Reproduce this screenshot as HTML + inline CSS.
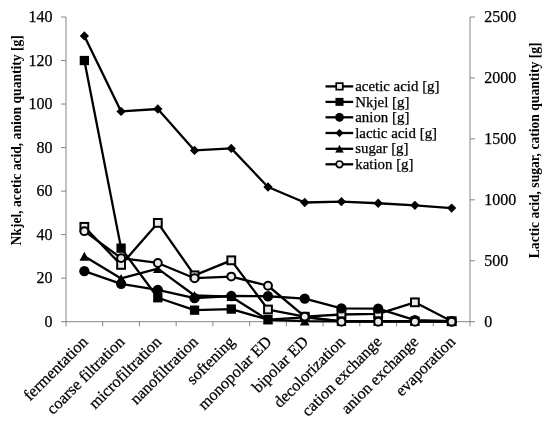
<!DOCTYPE html>
<html><head><meta charset="utf-8"><title>chart</title><style>html,body{margin:0;padding:0;background:#fff}body{width:550px;height:423px;overflow:hidden}</style></head><body>
<svg width="550" height="423" viewBox="0 0 550 423" style="display:block">
<rect width="550" height="423" fill="#fff"/>
<g stroke="#868686" stroke-width="1" fill="none">
<line x1="66.0" y1="17.0" x2="66.0" y2="321.7"/>
<line x1="470.0" y1="17.0" x2="470.0" y2="321.7"/>
<line x1="66.0" y1="321.7" x2="470.0" y2="321.7"/>
<line x1="61.0" y1="321.70" x2="66.0" y2="321.70"/>
<line x1="61.0" y1="278.17" x2="66.0" y2="278.17"/>
<line x1="61.0" y1="234.64" x2="66.0" y2="234.64"/>
<line x1="61.0" y1="191.11" x2="66.0" y2="191.11"/>
<line x1="61.0" y1="147.59" x2="66.0" y2="147.59"/>
<line x1="61.0" y1="104.06" x2="66.0" y2="104.06"/>
<line x1="61.0" y1="60.53" x2="66.0" y2="60.53"/>
<line x1="61.0" y1="17.00" x2="66.0" y2="17.00"/>
<line x1="470.0" y1="321.70" x2="475.0" y2="321.70"/>
<line x1="470.0" y1="260.76" x2="475.0" y2="260.76"/>
<line x1="470.0" y1="199.82" x2="475.0" y2="199.82"/>
<line x1="470.0" y1="138.88" x2="475.0" y2="138.88"/>
<line x1="470.0" y1="77.94" x2="475.0" y2="77.94"/>
<line x1="470.0" y1="17.00" x2="475.0" y2="17.00"/>
<line x1="66.00" y1="321.7" x2="66.00" y2="326.4"/>
<line x1="102.73" y1="321.7" x2="102.73" y2="326.4"/>
<line x1="139.45" y1="321.7" x2="139.45" y2="326.4"/>
<line x1="176.18" y1="321.7" x2="176.18" y2="326.4"/>
<line x1="212.91" y1="321.7" x2="212.91" y2="326.4"/>
<line x1="249.64" y1="321.7" x2="249.64" y2="326.4"/>
<line x1="286.36" y1="321.7" x2="286.36" y2="326.4"/>
<line x1="323.09" y1="321.7" x2="323.09" y2="326.4"/>
<line x1="359.82" y1="321.7" x2="359.82" y2="326.4"/>
<line x1="396.55" y1="321.7" x2="396.55" y2="326.4"/>
<line x1="433.27" y1="321.7" x2="433.27" y2="326.4"/>
<line x1="470.00" y1="321.7" x2="470.00" y2="326.4"/>
</g>
<g font-family="'Liberation Serif', serif" font-size="16" fill="#000" stroke="#000" stroke-width="0.25">
<text x="52.5" y="327.00" text-anchor="end">0</text>
<text x="52.5" y="283.47" text-anchor="end">20</text>
<text x="52.5" y="239.94" text-anchor="end">40</text>
<text x="52.5" y="196.41" text-anchor="end">60</text>
<text x="52.5" y="152.89" text-anchor="end">80</text>
<text x="52.5" y="109.36" text-anchor="end">100</text>
<text x="52.5" y="65.83" text-anchor="end">120</text>
<text x="52.5" y="22.30" text-anchor="end">140</text>
<text x="484.3" y="327.00">0</text>
<text x="484.3" y="266.06">500</text>
<text x="484.3" y="205.12">1000</text>
<text x="484.3" y="144.18">1500</text>
<text x="484.3" y="83.24">2000</text>
<text x="484.3" y="22.30">2500</text>
<text transform="translate(88.86,342.70) rotate(-45)" text-anchor="end" font-size="16.3">fermentation</text>
<text transform="translate(125.59,342.70) rotate(-45)" text-anchor="end" font-size="16.3">coarse filtration</text>
<text transform="translate(162.32,342.70) rotate(-45)" text-anchor="end" font-size="16.3">microfiltration</text>
<text transform="translate(199.05,342.70) rotate(-45)" text-anchor="end" font-size="16.3">nanofiltration</text>
<text transform="translate(235.77,342.70) rotate(-45)" text-anchor="end" font-size="16.3">softening</text>
<text transform="translate(272.50,342.70) rotate(-45)" text-anchor="end" font-size="16.3">monopolar ED</text>
<text transform="translate(309.23,342.70) rotate(-45)" text-anchor="end" font-size="16.3">bipolar ED</text>
<text transform="translate(345.95,342.70) rotate(-45)" text-anchor="end" font-size="16.3">decolorization</text>
<text transform="translate(382.68,342.70) rotate(-45)" text-anchor="end" font-size="16.3">cation exchange</text>
<text transform="translate(419.41,342.70) rotate(-45)" text-anchor="end" font-size="16.3">anion exchange</text>
<text transform="translate(456.14,342.70) rotate(-45)" text-anchor="end" font-size="16.3">evaporation</text>
</g>
<g font-family="'Liberation Serif', serif" font-size="13.6" font-weight="bold" fill="#000">
<text transform="translate(21,140.3) rotate(-90)" text-anchor="middle">Nkjel, acetic acid, anion quantity [g]</text>
<text transform="translate(539,150.3) rotate(-90)" text-anchor="middle" font-size="13.6">Lactic acid, sugar, cation quantity [g]</text>
</g>
<polyline fill="none" stroke="#000" stroke-width="2.3" stroke-linejoin="round" points="84.36,226.81 121.09,264.90 157.82,222.89 194.55,275.34 231.27,260.32 268.00,309.51 304.73,316.69 341.45,314.52 378.18,313.86 414.91,302.33 451.64,321.26"/>
<rect x="80.46" y="222.91" width="7.800000000000001" height="7.800000000000001" fill="#eaeaea" stroke="#000" stroke-width="2"/>
<rect x="117.19" y="261.00" width="7.800000000000001" height="7.800000000000001" fill="#eaeaea" stroke="#000" stroke-width="2"/>
<rect x="153.92" y="218.99" width="7.800000000000001" height="7.800000000000001" fill="#eaeaea" stroke="#000" stroke-width="2"/>
<rect x="190.65" y="271.44" width="7.800000000000001" height="7.800000000000001" fill="#eaeaea" stroke="#000" stroke-width="2"/>
<rect x="227.37" y="256.42" width="7.800000000000001" height="7.800000000000001" fill="#eaeaea" stroke="#000" stroke-width="2"/>
<rect x="264.10" y="305.61" width="7.800000000000001" height="7.800000000000001" fill="#eaeaea" stroke="#000" stroke-width="2"/>
<rect x="300.83" y="312.79" width="7.800000000000001" height="7.800000000000001" fill="#eaeaea" stroke="#000" stroke-width="2"/>
<rect x="337.55" y="310.62" width="7.800000000000001" height="7.800000000000001" fill="#eaeaea" stroke="#000" stroke-width="2"/>
<rect x="374.28" y="309.96" width="7.800000000000001" height="7.800000000000001" fill="#eaeaea" stroke="#000" stroke-width="2"/>
<rect x="411.01" y="298.43" width="7.800000000000001" height="7.800000000000001" fill="#eaeaea" stroke="#000" stroke-width="2"/>
<rect x="447.74" y="317.36" width="7.800000000000001" height="7.800000000000001" fill="#eaeaea" stroke="#000" stroke-width="2"/>
<polyline fill="none" stroke="#000" stroke-width="2.3" stroke-linejoin="round" points="84.36,60.53 121.09,248.14 157.82,297.76 194.55,310.16 231.27,309.08 268.00,319.63 304.73,317.35 341.45,321.05 378.18,321.05 414.91,321.16 451.64,321.37"/>
<rect x="79.71" y="55.88" width="9.3" height="9.3" fill="#000"/>
<rect x="116.44" y="243.49" width="9.3" height="9.3" fill="#000"/>
<rect x="153.17" y="293.11" width="9.3" height="9.3" fill="#000"/>
<rect x="189.90" y="305.51" width="9.3" height="9.3" fill="#000"/>
<rect x="226.62" y="304.43" width="9.3" height="9.3" fill="#000"/>
<rect x="263.35" y="314.98" width="9.3" height="9.3" fill="#000"/>
<rect x="300.08" y="312.70" width="9.3" height="9.3" fill="#000"/>
<rect x="336.80" y="316.40" width="9.3" height="9.3" fill="#000"/>
<rect x="373.53" y="316.40" width="9.3" height="9.3" fill="#000"/>
<rect x="410.26" y="316.51" width="9.3" height="9.3" fill="#000"/>
<rect x="446.99" y="316.72" width="9.3" height="9.3" fill="#000"/>
<polyline fill="none" stroke="#000" stroke-width="2.3" stroke-linejoin="round" points="84.36,271.21 121.09,283.83 157.82,289.92 194.55,298.19 231.27,296.02 268.00,296.24 304.73,298.63 341.45,308.42 378.18,308.64 414.91,320.07 451.64,321.26"/>
<circle cx="84.36" cy="271.21" r="5.15" fill="#000"/>
<circle cx="121.09" cy="283.83" r="5.15" fill="#000"/>
<circle cx="157.82" cy="289.92" r="5.15" fill="#000"/>
<circle cx="194.55" cy="298.19" r="5.15" fill="#000"/>
<circle cx="231.27" cy="296.02" r="5.15" fill="#000"/>
<circle cx="268.00" cy="296.24" r="5.15" fill="#000"/>
<circle cx="304.73" cy="298.63" r="5.15" fill="#000"/>
<circle cx="341.45" cy="308.42" r="5.15" fill="#000"/>
<circle cx="378.18" cy="308.64" r="5.15" fill="#000"/>
<circle cx="414.91" cy="320.07" r="5.15" fill="#000"/>
<circle cx="451.64" cy="321.26" r="5.15" fill="#000"/>
<polyline fill="none" stroke="#000" stroke-width="2.3" stroke-linejoin="round" points="84.36,35.89 121.09,111.46 157.82,109.02 194.55,150.46 231.27,148.39 268.00,187.02 304.73,202.50 341.45,201.65 378.18,203.23 414.91,205.30 451.64,208.11"/>
<path d="M79.71,35.89L84.36,31.24L89.01,35.89L84.36,40.54Z" fill="#000"/>
<path d="M116.44,111.46L121.09,106.81L125.74,111.46L121.09,116.11Z" fill="#000"/>
<path d="M153.17,109.02L157.82,104.37L162.47,109.02L157.82,113.67Z" fill="#000"/>
<path d="M189.90,150.46L194.55,145.81L199.20,150.46L194.55,155.11Z" fill="#000"/>
<path d="M226.62,148.39L231.27,143.74L235.92,148.39L231.27,153.04Z" fill="#000"/>
<path d="M263.35,187.02L268.00,182.37L272.65,187.02L268.00,191.67Z" fill="#000"/>
<path d="M300.08,202.50L304.73,197.85L309.38,202.50L304.73,207.15Z" fill="#000"/>
<path d="M336.80,201.65L341.45,197.00L346.10,201.65L341.45,206.30Z" fill="#000"/>
<path d="M373.53,203.23L378.18,198.58L382.83,203.23L378.18,207.88Z" fill="#000"/>
<path d="M410.26,205.30L414.91,200.65L419.56,205.30L414.91,209.95Z" fill="#000"/>
<path d="M446.99,208.11L451.64,203.46L456.29,208.11L451.64,212.76Z" fill="#000"/>
<polyline fill="none" stroke="#000" stroke-width="2.3" stroke-linejoin="round" points="84.36,256.25 121.09,278.43 157.82,268.68 194.55,295.50 231.27,296.71 268.00,319.87 304.73,321.09 341.45,321.33 378.18,321.33 414.91,321.33 451.64,321.46"/>
<path d="M79.51,260.65L84.36,251.85L89.21,260.65Z" fill="#000"/>
<path d="M116.24,282.83L121.09,274.03L125.94,282.83Z" fill="#000"/>
<path d="M152.97,273.08L157.82,264.28L162.67,273.08Z" fill="#000"/>
<path d="M189.70,299.90L194.55,291.10L199.40,299.90Z" fill="#000"/>
<path d="M226.42,301.11L231.27,292.31L236.12,301.11Z" fill="#000"/>
<path d="M263.15,324.27L268.00,315.47L272.85,324.27Z" fill="#000"/>
<path d="M299.88,325.49L304.73,316.69L309.58,325.49Z" fill="#000"/>
<path d="M336.60,325.73L341.45,316.93L346.30,325.73Z" fill="#000"/>
<path d="M373.33,325.73L378.18,316.93L383.03,325.73Z" fill="#000"/>
<path d="M410.06,325.73L414.91,316.93L419.76,325.73Z" fill="#000"/>
<path d="M446.79,325.86L451.64,317.06L456.49,325.86Z" fill="#000"/>
<polyline fill="none" stroke="#000" stroke-width="2.3" stroke-linejoin="round" points="84.36,231.14 121.09,258.08 157.82,262.95 194.55,278.19 231.27,276.60 268.00,285.75 304.73,316.58 341.45,321.70 378.18,321.70 414.91,321.70 451.64,321.64"/>
<circle cx="84.36" cy="231.14" r="3.95" fill="#eaeaea" stroke="#000" stroke-width="2"/>
<circle cx="121.09" cy="258.08" r="3.95" fill="#eaeaea" stroke="#000" stroke-width="2"/>
<circle cx="157.82" cy="262.95" r="3.95" fill="#eaeaea" stroke="#000" stroke-width="2"/>
<circle cx="194.55" cy="278.19" r="3.95" fill="#eaeaea" stroke="#000" stroke-width="2"/>
<circle cx="231.27" cy="276.60" r="3.95" fill="#eaeaea" stroke="#000" stroke-width="2"/>
<circle cx="268.00" cy="285.75" r="3.95" fill="#eaeaea" stroke="#000" stroke-width="2"/>
<circle cx="304.73" cy="316.58" r="3.95" fill="#eaeaea" stroke="#000" stroke-width="2"/>
<circle cx="341.45" cy="321.70" r="3.95" fill="#eaeaea" stroke="#000" stroke-width="2"/>
<circle cx="378.18" cy="321.70" r="3.95" fill="#eaeaea" stroke="#000" stroke-width="2"/>
<circle cx="414.91" cy="321.70" r="3.95" fill="#eaeaea" stroke="#000" stroke-width="2"/>
<circle cx="451.64" cy="321.64" r="3.95" fill="#eaeaea" stroke="#000" stroke-width="2"/>
<g font-family="'Liberation Serif', serif" font-size="14.9" fill="#000" stroke="#000" stroke-width="0.25">
<line x1="325.5" y1="86.4" x2="353.2" y2="86.4" stroke="#000" stroke-width="2.3"/>
<g transform="translate(339.5,86.4) scale(0.84) translate(-339.5,-86.4)"><rect x="335.60" y="82.50" width="7.800000000000001" height="7.800000000000001" fill="#eaeaea" stroke="#000" stroke-width="2"/></g>
<text x="355.2" y="91.00">acetic acid [g]</text>
<line x1="325.5" y1="101.9" x2="353.2" y2="101.9" stroke="#000" stroke-width="2.3"/>
<g transform="translate(339.5,101.9) scale(0.84) translate(-339.5,-101.9)"><rect x="334.85" y="97.25" width="9.3" height="9.3" fill="#000"/></g>
<text x="355.2" y="106.50">Nkjel [g]</text>
<line x1="325.5" y1="117.3" x2="353.2" y2="117.3" stroke="#000" stroke-width="2.3"/>
<g transform="translate(339.5,117.3) scale(0.84) translate(-339.5,-117.3)"><circle cx="339.50" cy="117.30" r="5.15" fill="#000"/></g>
<text x="355.2" y="121.90">anion [g]</text>
<line x1="325.5" y1="133.0" x2="353.2" y2="133.0" stroke="#000" stroke-width="2.3"/>
<g transform="translate(339.5,133.0) scale(0.84) translate(-339.5,-133.0)"><path d="M334.85,133.00L339.50,128.35L344.15,133.00L339.50,137.65Z" fill="#000"/></g>
<text x="355.2" y="137.60">lactic acid [g]</text>
<line x1="325.5" y1="148.8" x2="353.2" y2="148.8" stroke="#000" stroke-width="2.3"/>
<g transform="translate(339.5,148.8) scale(0.84) translate(-339.5,-148.8)"><path d="M334.65,153.20L339.50,144.40L344.35,153.20Z" fill="#000"/></g>
<text x="355.2" y="153.40">sugar [g]</text>
<line x1="325.5" y1="164.3" x2="353.2" y2="164.3" stroke="#000" stroke-width="2.3"/>
<g transform="translate(339.5,164.3) scale(0.84) translate(-339.5,-164.3)"><circle cx="339.50" cy="164.30" r="3.95" fill="#eaeaea" stroke="#000" stroke-width="2"/></g>
<text x="355.2" y="168.90">kation [g]</text>
</g>
</svg>
</body></html>
